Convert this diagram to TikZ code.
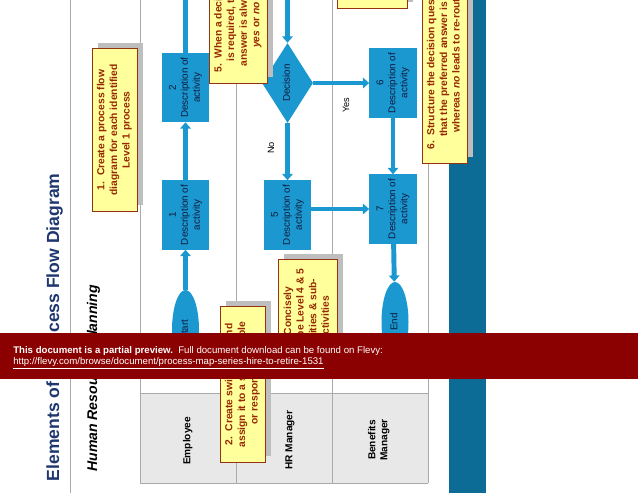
\documentclass[tikz,border=0pt]{standalone}
\usepackage{fontspec}
\setmainfont{Liberation Sans}
\usepackage{graphicx}
\usetikzlibrary{arrows.meta,shapes.geometric,shadows}

\definecolor{actblue}{RGB}{27,152,208}
\definecolor{boxtext}{RGB}{15,25,60}
\definecolor{notefill}{RGB}{255,255,155}
\definecolor{notedraw}{RGB}{150,50,20}
\definecolor{notetext}{RGB}{150,40,0}
\definecolor{shadowgrey}{RGB}{190,190,190}
\definecolor{lanegrey}{RGB}{170,170,170}
\definecolor{hdrfill}{RGB}{232,232,232}
\definecolor{tealbar}{RGB}{12,108,150}
\definecolor{titleblue}{RGB}{30,55,110}
\definecolor{bannerred}{RGB}{139,0,0}

\newcommand{\vlines}[1]{\rotatebox{90}{\begin{tabular}{@{}c@{}}#1\end{tabular}}}

\tikzset{
  actbox/.style={fill=actblue, inner sep=0pt, minimum width=11.75mm, minimum height=17.25mm, text=boxtext, font=\fontsize{7}{8.5}\selectfont},
  decbox/.style={diamond, fill=actblue, inner sep=0pt, minimum width=12.75mm, minimum height=20mm, text=boxtext, font=\fontsize{7}{8.5}\selectfont},
  termbox/.style={ellipse, fill=actblue, inner sep=0pt, minimum width=6.75mm, minimum height=20mm, text=boxtext, font=\fontsize{7}{8.5}\selectfont},
  flow/.style={draw=actblue, line width=3.5pt},
  note/.style={fill=notefill, draw=notedraw, line width=0.7pt, inner sep=0pt, text=notetext, font=\bfseries\fontsize{7.3}{8.9}\selectfont, drop shadow={shadow xshift=4pt, shadow yshift=4pt, fill=shadowgrey, opacity=1}},
  laneline/.style={draw=lanegrey, line width=0.7pt},
  lanehead/.style={text=black, font=\bfseries\fontsize{7.2}{8.6}\selectfont},
  yesno/.style={rotate=90, font=\fontsize{6.5}{8}\selectfont},
  titletext/.style={rotate=90, inner sep=0pt, text=titleblue, font=\bfseries\fontsize{12.5}{15}\selectfont},
  subtitletext/.style={rotate=90, inner sep=0pt, text=black, font=\bfseries\itshape\fontsize{10}{12}\selectfont},
  bannertext/.style={inner sep=0pt, text=white, font=\fontsize{6.85}{8}\selectfont}
}

\begin{document}
\begin{tikzpicture}[x=0.025cm, y=-0.025cm, >={Triangle[width=7.5pt,length=4.5pt]}]
\useasboundingbox (0,0) rectangle (638,493);
\clip (0,0) rectangle (638,493);
\fill[white] (0,0) rectangle (638,493);

\fill[hdrfill] (140,393) rectangle (428,483);
\draw[laneline] (70,0) -- (70,493);
\draw[laneline] (140,0) -- (140,483) -- (428,483);
\draw[laneline] (140,393) -- (428,393);
\draw[laneline] (236,0) -- (236,483);
\draw[laneline] (332,0) -- (332,483);
\draw[laneline] (428,0) -- (428,483);
\fill[tealbar] (449,0) rectangle (486,493);

\node[titletext, anchor=base west] (title) at (59,481.5) {Elements of a Process Flow Diagram};
\node[subtitletext, anchor=base west] (subtitle) at (97,472) {Human Resources Planning};

\node[lanehead] (hemp) at (188,441) {\vlines{Employee}};
\node[lanehead] (hhr) at (290,440) {\vlines{HR Manager}};
\node[lanehead] (hben) at (379,440) {\vlines{Benefits\\Manager}};

\node[termbox] (start) at (185.5,330) {\vlines{Start}};
\node[actbox] (b1) at (185.5,215) {\vlines{1\\Description of\\activity}};
\node[actbox] (b2) at (185.5,87.5) {\vlines{2\\Description of\\activity}};
\node[decbox] (dec) at (287.5,83) {\vlines{Decision}};
\node[actbox] (b5) at (287.5,215) {\vlines{5\\Description of\\activity}};
\node[actbox] (b6) at (393,83) {\vlines{6\\Description of\\activity}};
\node[actbox] (b7) at (393,209) {\vlines{7\\Description of\\activity}};
\node[termbox] (endn) at (395,322) {\vlines{End}};
\coordinate (b2top) at (185.5,0);
\coordinate (dectop) at (287.5,0);

\draw[->, flow] (start) -- (b1);
\draw[->, flow] (b1) -- (b2);
\draw[flow] (b2) -- (b2top);
\draw[->, flow] (dectop) -- (dec);
\draw[->, flow] (dec) -- (b6);
\draw[->, flow] (dec) -- (b5);
\draw[->, flow] (b5.east |- b7.west) -- (b7.west);
\draw[->, flow] (b6) -- (b7);
\draw[->, flow] (b7) -- (endn);
\node[yesno] (yes) at (346,105) {Yes};
\node[yesno] (no) at (271,148) {No};

\node[note, minimum width=11.25mm, minimum height=40.5mm] (n1) at (114.5,130) {\vlines{1.\ \ Create a process flow\\diagram for each identified\\Level 1 process}};
\node[note, minimum width=11.25mm, minimum height=38.75mm] (n2) at (242.5,384.5) {\vlines{2.\ \ Create swimlanes and\\assign it to a specific role\\or responsibility}};
\node[note, minimum width=14.75mm, minimum height=29mm] (n3) at (307.5,318) {\vlines{3.\ \ Concisely\\describe Level 4 \& 5\\activities \& sub-\\activities}};
\node[note, minimum width=17.5mm, minimum height=12mm] (n4) at (372,-16) {};
\node[note, minimum width=14.5mm, minimum height=29mm] (n5) at (238,25) {\vlines{5.\ \ When a decision\\is required, the\\answer is always\\\textit{yes} or \textit{no}}};
\node[note, minimum width=11.25mm, minimum height=52.5mm] (n6) at (444.5,58) {\vlines{6.\ \ Structure the decision question so\\that the preferred answer is \textit{yes},\\whereas \textit{no} leads to re-routing}};

\fill[bannerred] (0,333) rectangle (638,379);
\node[bannertext, anchor=base west] (bn1) at (13,353) {\textbf{This document is a partial preview.}\ \ Full document download can be found on Flevy:};
\node[bannertext, anchor=base west] (bn2) at (13,364) {\underline{http://flevy.com/browse/document/process-map-series-hire-to-retire-1531}};
\end{tikzpicture}
\end{document}
